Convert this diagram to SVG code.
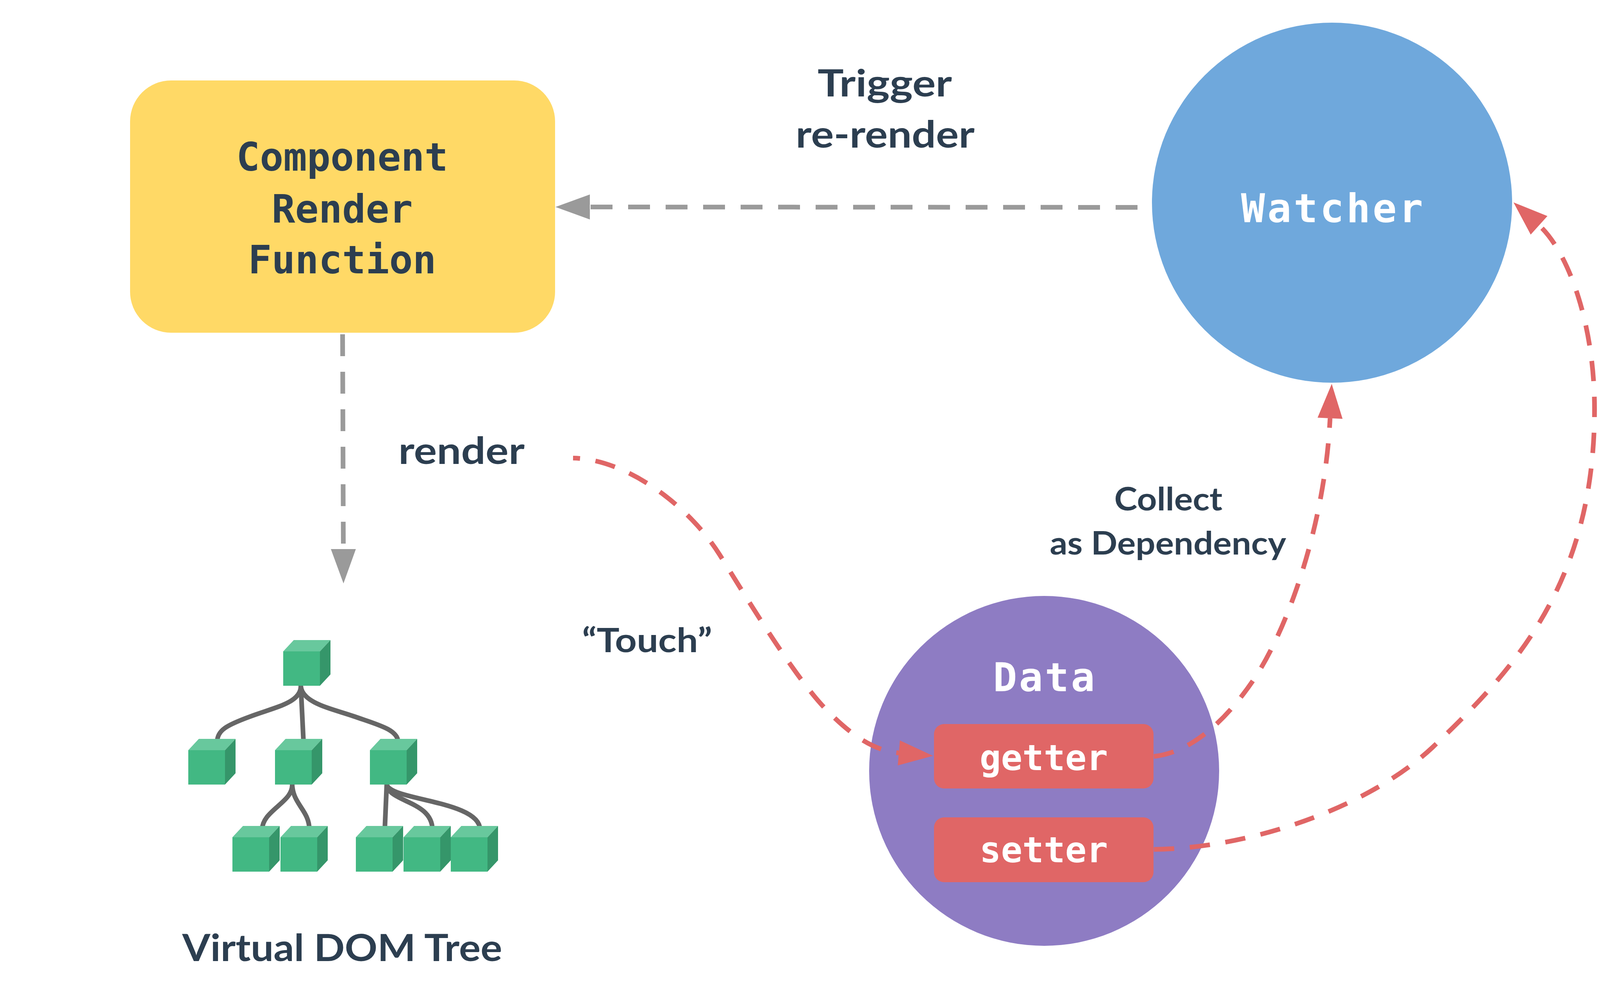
<svg xmlns="http://www.w3.org/2000/svg" xmlns:xlink="http://www.w3.org/1999/xlink" width="4536" height="2553" viewBox="0 0 4536 2553">
<style>
.mono{font-family:"DejaVu Sans Mono","Liberation Mono",monospace;font-weight:bold;text-anchor:middle}
.lbl{font-family:Lato,"Noto Sans","Liberation Sans",sans-serif;font-weight:bold;fill:#2c3e50}
.gray{fill:none;stroke:#9a9a9a;stroke-width:12;stroke-dasharray:56 40}
.red{fill:none;stroke:#e06666;stroke-width:12;stroke-dasharray:52 40}
.edge{fill:none;stroke:#666666;stroke-width:12;stroke-linecap:round}
.cf{fill:#42b883}
.ct{fill:#68c89d}
.cr{fill:#35966a}
</style>
<defs>
<marker id="ag" viewBox="0 -32 88 64" refX="0" refY="0" markerWidth="88" markerHeight="64" markerUnits="userSpaceOnUse" orient="auto" overflow="visible">
<path d="M0,-32 L88,0 L0,32 Z" fill="#9a9a9a"/>
</marker>
<marker id="ar" viewBox="0 -32 88 64" refX="0" refY="0" markerWidth="88" markerHeight="64" markerUnits="userSpaceOnUse" orient="auto" overflow="visible">
<path d="M0,-32 L88,0 L0,32 Z" fill="#e06666"/>
</marker>
<g id="cube">
<polygon class="ct" points="0,0 27,-29 121,-29 94,0"/>
<polygon class="cr" points="94,0 121,-29 121,59 94,88"/>
<rect class="cf" x="0" y="0" width="94" height="88"/>
</g>
</defs>
<rect width="4536" height="2553" fill="#ffffff"/>

<g id="component-render-function">
<rect x="333" y="206" width="1088" height="646" rx="105" ry="105" fill="#ffd966"/>
<text class="mono" font-size="100" fill="#2c3e50"><tspan x="876" y="437">Component</tspan><tspan x="876" y="570">Render</tspan><tspan x="876" y="700">Function</tspan></text>
</g>

<g id="watcher">
<circle cx="3410" cy="519" r="461" fill="#6fa8dc"/>
<text class="mono" x="3413" y="569" font-size="102" letter-spacing="6" fill="#ffffff">Watcher</text>
</g>

<g id="data">
<circle cx="2673" cy="1974" r="448" fill="#8e7cc3"/>
<text class="mono" x="2675" y="1770" font-size="102" letter-spacing="5" fill="#ffffff">Data</text>
<g id="getter">
<rect x="2391" y="1854" width="562" height="165" rx="26" fill="#e06666"/>
<text class="mono" x="2672" y="1972" font-size="91" fill="#ffffff">getter</text>
</g>
<g id="setter">
<rect x="2391" y="2093" width="562" height="166" rx="26" fill="#e06666"/>
<text class="mono" x="2672" y="2208" font-size="91" fill="#ffffff">setter</text>
</g>
</g>

<g id="virtual-dom-tree">
<path class="edge" d="M770,1756 C772,1800 700,1812 640,1835 C580,1857 556,1870 556,1900"/>
<path class="edge" d="M770,1756 L777,1900"/>
<path class="edge" d="M770,1756 C772,1800 850,1815 905,1834 C965,1855 1019,1868 1019,1900"/>
<path class="edge" d="M748,2009 C750,2055 671,2075 671,2125"/>
<path class="edge" d="M748,2009 C750,2060 792,2075 792,2125"/>
<path class="edge" d="M990,2009 L985,2125"/>
<path class="edge" d="M990,2009 C995,2055 1107,2050 1107,2125"/>
<path class="edge" d="M990,2009 C1000,2050 1229,2050 1229,2125"/>
<use xlink:href="#cube" x="725" y="1668"/>
<use xlink:href="#cube" x="482" y="1921"/>
<use xlink:href="#cube" x="704" y="1921"/>
<use xlink:href="#cube" x="947" y="1921"/>
<use xlink:href="#cube" x="595" y="2144"/>
<use xlink:href="#cube" x="718" y="2144"/>
<use xlink:href="#cube" x="911" y="2144"/>
<use xlink:href="#cube" x="1033" y="2144"/>
<use xlink:href="#cube" x="1154" y="2144"/>
<text class="lbl" x="876" y="2461" font-size="96" text-anchor="middle" textLength="819" lengthAdjust="spacingAndGlyphs">Virtual DOM Tree</text>
</g>

<g id="connectors">
<path class="gray" d="M2912,531 L1510,530" marker-end="url(#ag)"/>
<path class="gray" d="M877,856 L879,1406" marker-end="url(#ag)"/>
<path class="red" stroke-dashoffset="34" d="M1467,1173 C1600,1175 1760,1290 1842,1420 C1900,1512 2030,1730 2116,1818 C2170,1873 2230,1922 2301,1928" marker-end="url(#ar)"/>
<path class="red" d="M2954,1937 C3060,1925 3150,1830 3215,1732 C3300,1600 3392,1340 3405,1071" marker-end="url(#ar)"/>
<path class="red" d="M2954,2175 C3200,2172 3500,2070 3667,1914 C3870,1720 4082,1500 4082,1047 C4082,820 4010,640 3940,577" marker-end="url(#ar)"/>
</g>

<g id="labels">
<text class="lbl" x="2265" y="247" font-size="96" text-anchor="middle" textLength="344" lengthAdjust="spacingAndGlyphs">Trigger</text>
<text class="lbl" x="2266" y="378" font-size="96" text-anchor="middle" textLength="458" lengthAdjust="spacingAndGlyphs">re-render</text>
<text class="lbl" x="1020" y="1188" font-size="96" textLength="323" lengthAdjust="spacingAndGlyphs">render</text>
<text class="lbl" x="1490" y="1670" font-size="86" textLength="333" lengthAdjust="spacingAndGlyphs">“Touch”</text>
<text class="lbl" x="2991" y="1307" font-size="82" text-anchor="middle" textLength="277" lengthAdjust="spacingAndGlyphs">Collect</text>
<text class="lbl" x="2990" y="1420" font-size="82" text-anchor="middle" textLength="605" lengthAdjust="spacingAndGlyphs">as Dependency</text>
<text class="lbl" x="4152" y="1400" font-size="82" textLength="246" lengthAdjust="spacingAndGlyphs">Notify</text>
<text x="4320" y="2493" font-size="20" fill="#b0b0b0" font-family="'Noto Sans CJK SC',sans-serif" textLength="159" lengthAdjust="spacingAndGlyphs">@稀土掘金技术社区</text>
</g>
</svg>
